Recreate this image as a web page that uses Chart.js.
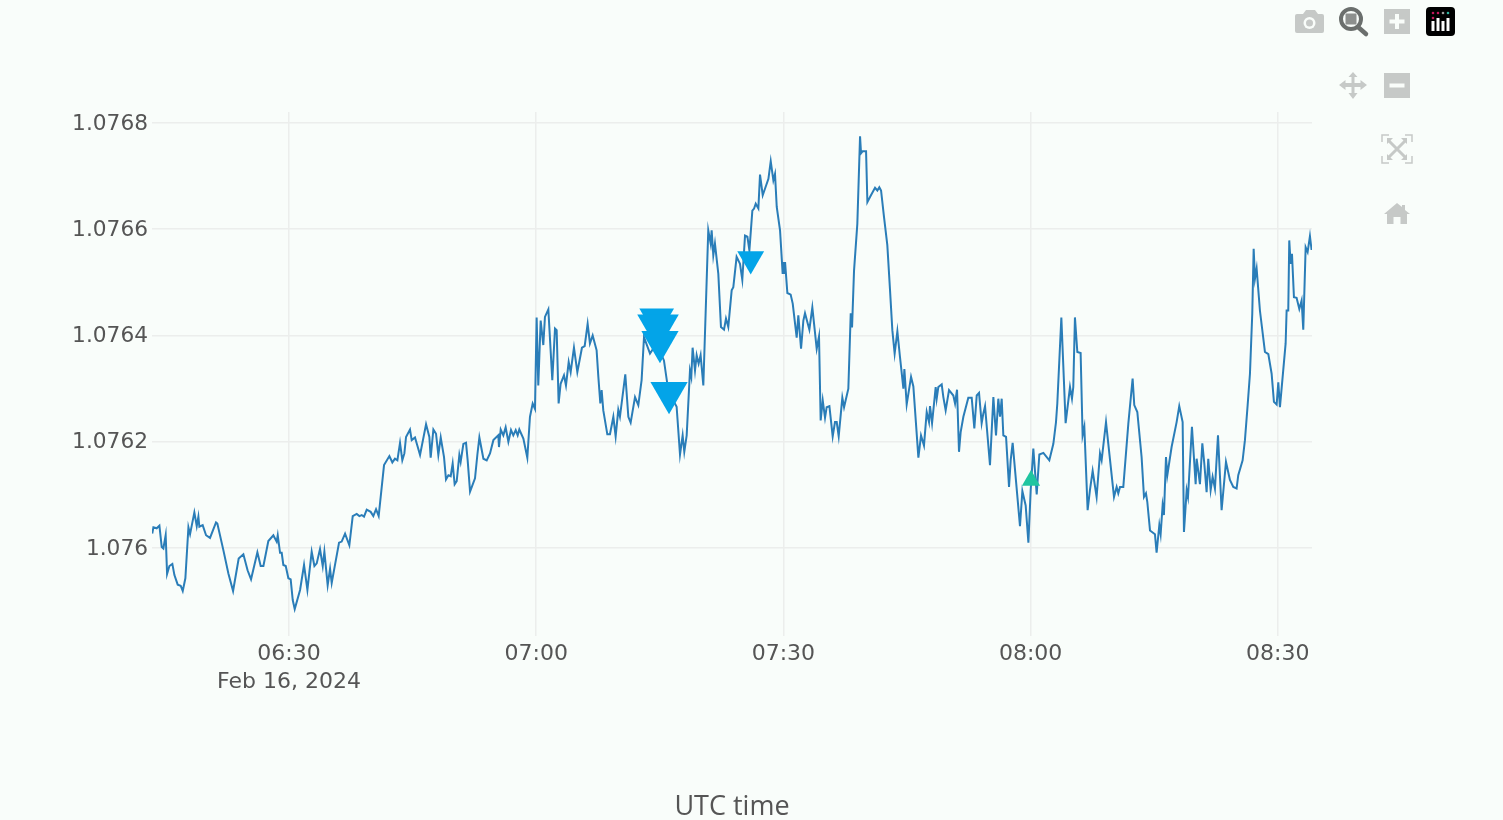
<!DOCTYPE html>
<html><head><meta charset="utf-8">
<script src="https://cdn.jsdelivr.net/npm/chart.js@4"></script>
<style>
html,body{margin:0;padding:0;background:#f9fdfa;width:1503px;height:820px;overflow:hidden}
#wrap{position:relative;width:1503px;height:820px}
canvas{position:absolute;left:0;top:0}
svg{position:absolute;left:0;top:0}
</style></head><body>
<div id="wrap"><canvas id="c" width="1503" height="820"></canvas>
<svg width="1503" height="820" viewBox="0 0 1503 820" aria-hidden="true">
 <g fill="#c6c9c7">
  <path d="M1297 14h6l3-4h9l3 4h4a2 2 0 0 1 2 2v15a2 2 0 0 1-2 2h-25a2 2 0 0 1-2-2v-15a2 2 0 0 1 2-2z"/>
  <path d="M1384 9h26v25h-26z"/><path d="M1384 73h26v25h-26z"/>
  <path d="M1353 72l4.500 5h-3v6h6v-3l6.500 5-6.500 5v-3h-6v6h3l-4.500 6-4.500-6h3v-6h-6v3l-6.500-5 6.500-5v3h6v-6h-3z"/>
  <path d="M1397 203l5 4v-2h3v5l5 4h-3v10h-6.500v-7h-7v7H1387v-10h-3z"/>
 </g>
 <circle cx="1309.500" cy="23" r="6" fill="#f9fdfa"/><circle cx="1309.500" cy="23" r="3.500" fill="#c6c9c7"/>
 <path d="M1397 14v15M1389.500 21.500h15M1389.500 85.500h15" stroke="#f9fdfa" stroke-width="4"/>
 <g stroke="#c6c9c7" stroke-width="1.500" fill="none">
  <path d="M1382 142v-7h7M1405 135h7v7M1412 156v7h-7M1389 163h-7v-7"/>
 </g>
 <path d="M1389 141l16 16M1405 141l-16 16" stroke="#c6c9c7" stroke-width="3"/>
 <path d="M1387 138h6l-6 6zM1407 138h-6l6 6zM1387 160h6l-6-6zM1407 160h-6l6-6z" fill="#c6c9c7"/>
 <circle cx="1351" cy="19" r="10" fill="#f9fdfa" stroke="#6b6f6d" stroke-width="4"/>
 <rect x="1345.500" y="13.500" width="11" height="11" fill="#8d908e"/>
 <path d="M1358 27l8 7" stroke="#6b6f6d" stroke-width="4.500" stroke-linecap="round"/>
 <rect x="1426" y="7" width="29" height="29" rx="4" fill="#000"/>
 <path d="M1431.500 21h3v10h-3zM1436.500 18h3v13h-3zM1441.500 21h3v10h-3zM1446.500 18h3v13h-3z" fill="#fff"/>
 <circle cx="1433" cy="13" r="1.300" fill="#c2185b"/><circle cx="1433" cy="18" r="1.300" fill="#c2185b"/>
 <circle cx="1438" cy="13" r="1.300" fill="#c2185b"/><circle cx="1443" cy="13" r="1.300" fill="#9e9e9e"/>
 <circle cx="1448" cy="13" r="1.300" fill="#2bb5a0"/>
</svg></div>
<script>
// Minutes after 06:00 UTC on Feb 16, 2024
const times = [
13.4,13.54,13.94,14.27,14.55,14.75,15.03,15.20,15.48,15.84,16.09,16.49,16.85,17.10,17.42,17.79,17.99,18.51,18.80,19.00,19.12,19.52,19.93,20.41,21.14,21.30,22.03,22.64,23.21,23.89,24.46,24.97,25.39,26.16,26.56,26.89,27.49,28.10,28.50,28.63,28.91,29.11,29.31,29.60,29.92,30.20,30.45,30.69,31.34,31.82,32.23,32.75,33.08,33.36,33.76,34.09,34.29,34.69,34.98,35.18,36.07,36.39,36.80,37.32,37.73,38.21,38.54,38.82,39.10,39.43,39.91,40.23,40.56,40.88,41.53,42.18,42.54,42.86,43.15,43.47,43.75,44.00,44.20,44.68,44.89,45.29,45.57,45.90,46.63,47.03,47.19,47.52,47.84,48.12,48.41,48.81,49.05,49.34,49.62,49.86,50.10,50.35,50.67,50.83,51.16,51.48,51.68,51.97,52.57,52.86,53.10,53.59,53.99,54.39,54.80,55.40,55.48,55.69,56.01,56.29,56.62,56.94,57.22,57.51,57.75,57.95,58.44,58.92,
59.24,59.57,59.85,60.05,60.25,60.54,60.86,61.06,61.47,61.95,62.28,62.48,62.72,62.96,63.37,63.61,63.94,64.18,64.58,64.99,65.55,65.88,66.24,66.52,66.85,67.33,67.54,67.78,67.94,68.14,68.63,68.95,69.36,69.64,69.96,70.16,70.81,71.18,71.46,71.99,72.39,72.79,73.08,73.81,74.61,75.50,75.91,76.43,77.04,77.45,77.77,77.97,78.26,78.66,78.82,78.98,79.27,79.47,79.71,79.95,80.28,80.88,81.17,81.29,81.49,81.69,82.10,82.42,82.79,83.03,83.31,83.72,83.92,84.32,84.73,85.01,
85.34,85.63,85.87,86.23,86.44,86.64,86.96,87.16,87.49,88.18,88.46,88.78,88.98,89.19,89.59,
89.91,89.99,90.12,90.20,90.48,90.88,91.13,91.61,91.81,92.14,92.42,92.62,93.15,93.51,94.04,94.32,94.52,94.77,95.05,95.25,95.58,95.98,96.26,96.47,96.71,97.15,97.36,97.88,98.17,98.33,98.57,98.97,99.30,99.42,99.62,100.03,100.19,100.59,101.12,101.40,101.64,101.85,102.21,102.61,102.94,103.22,103.50,103.83,104.15,104.56,104.68,104.96,105.49,105.77,106.38,106.70,107.06,107.39,107.67,107.79,108.04,108.48,108.60,108.80,109.21,109.41,109.69,110.10,110.62,110.83,111.07,111.31,111.51,111.84,112.44,112.85,113.17,113.46,113.74,114.06,114.26,114.47,115.07,115.48,115.80,116.08,116.29,116.49,116.69,117.02,117.38,117.58,117.82,118.71,119.00,119.40,119.73,120.01,120.33,120.74,121.06,121.55,122.27,
122.76,123.08,123.24,123.73,124.25,124.78,125.02,125.18,125.38,125.67,126.07,126.31,126.52,126.92,127.20,127.53,128.01,128.42,128.62,129.15,129.43,130.12,130.44,130.64,130.85,131.25,131.86,132.38,132.58,132.95,133.47,133.76,134.00,134.16,134.49,135.09,135.29,135.62,135.78,136.02,136.18,136.43,136.59,137.11,137.72,138.04,138.45,138.61,138.94,139.10,139.58,140.03,140.15,140.55,140.84,141.08,141.36,141.56,141.85,142.09,142.37,142.74,143.18,143.71,144.19,144.60,145.00,145.20,145.73,146.01,146.34,146.62,146.90,147.07,147.23,147.43,147.83,148.44,148.85,149.25,149.53,149.86,150.06,150.26,150.95,151.07,151.27,151.39,151.56,151.72,151.96,152.28,152.61,152.89,153.09,153.38,153.62,153.90,154.1];
const prices = [
1.076027,1.076039,1.076037,1.076042,1.076002,1.075999,1.076024,1.075951,1.075966,1.075970,1.075949,1.075931,1.075929,1.075919,1.075943,1.076039,1.076026,1.076067,1.076041,1.076059,1.076040,1.076043,1.076024,1.076019,1.076048,1.076046,1.075996,1.075952,1.075919,1.075980,1.075988,1.075958,1.075941,1.075992,1.075966,1.075966,1.076013,1.076024,1.076012,1.076024,1.075991,1.075991,1.075968,1.075966,1.075943,1.075941,1.075902,1.075885,1.075921,1.075968,1.075921,1.075993,1.075966,1.075971,1.075998,1.075966,1.075993,1.075930,1.075961,1.075934,1.076010,1.076012,1.076027,1.076005,1.076060,1.076064,1.076060,1.076062,1.076059,1.076072,1.076068,1.076060,1.076073,1.076060,1.076156,1.076173,1.076161,1.076168,1.076165,1.076198,1.076165,1.076178,1.076209,1.076223,1.076203,1.076208,1.076193,1.076175,1.076233,1.076209,1.076170,1.076223,1.076215,1.076175,1.076208,1.076171,1.076129,1.076137,1.076135,1.076159,1.076120,1.076126,1.076175,1.076162,1.076196,1.076198,1.076165,1.076106,1.076131,1.076176,1.076208,1.076168,1.076165,1.076178,1.076203,1.076212,1.076190,1.076223,1.076212,1.076227,1.076200,1.076222,1.076212,1.076222,1.076212,1.076223,1.076206,1.076170,
1.076247,1.076272,1.076262,1.076434,1.076306,1.076428,1.076382,1.076435,1.076449,1.076316,1.076413,1.076410,1.076272,1.076309,1.076325,1.076306,1.076350,1.076331,1.076377,1.076331,1.076377,1.076380,1.076422,1.076385,1.076400,1.076372,1.076322,1.076272,1.076297,1.076259,1.076214,1.076214,1.076247,1.076210,1.076260,1.076247,1.076327,1.076247,1.076236,1.076284,1.076269,1.076316,1.076397,1.076366,1.076385,1.076353,1.076309,1.076284,1.076266,1.076176,1.076212,1.076181,1.076212,1.076334,1.076322,1.076377,1.076334,1.076363,1.076347,1.076363,1.076306,1.076598,1.076573,1.076598,1.076551,1.076573,1.076516,1.076416,1.076411,1.076432,1.076416,1.076485,1.076491,1.076548,1.076535,1.076505,
1.076588,1.076586,1.076560,1.076635,1.076639,1.076648,1.076639,1.076703,1.076664,1.076695,1.076728,1.076692,1.076704,1.076642,1.076598,
1.076516,1.076538,1.076516,1.076538,1.076480,1.076477,1.076460,1.076396,1.076438,1.076375,1.076428,1.076442,1.076411,1.076453,1.076375,1.076398,1.076240,1.076278,1.076245,1.076265,1.076267,1.076210,1.076237,1.076237,1.076210,1.076283,1.076265,1.076300,1.076442,1.076415,1.076522,1.076610,1.076775,1.076743,1.076747,1.076747,1.076651,1.076663,1.076678,1.076673,1.076679,1.076673,1.076623,1.076570,1.076485,1.076410,1.076366,1.076408,1.076359,1.076300,1.076337,1.076270,1.076322,1.076304,1.076170,1.076212,1.076193,1.076256,1.076237,1.076267,1.076235,1.076303,1.076281,1.076303,1.076308,1.076284,1.076259,1.076297,1.076287,1.076272,1.076298,1.076181,1.076218,1.076247,1.076283,1.076283,1.076225,1.076287,1.076292,1.076235,1.076253,1.076267,1.076156,1.076284,1.076212,1.076281,1.076247,1.076281,1.076212,1.076209,1.076115,1.076165,1.076198,1.076041,1.076107,1.076080,1.076010,1.076109,1.076187,1.076101,1.076176,1.076179,1.076165,
1.076196,1.076237,1.076272,1.076434,1.076235,1.076303,1.076281,1.076303,1.076434,1.076369,1.076367,1.076212,1.076228,1.076071,1.076109,1.076145,1.076096,1.076178,1.076165,1.076237,1.076196,1.076096,1.076115,1.076103,1.076115,1.076115,1.076234,1.076319,1.076269,1.076256,1.076171,1.076096,1.076103,1.076087,1.076033,1.076026,1.075991,1.076043,1.076026,1.076080,1.076062,1.076171,1.076137,1.076190,1.076237,1.076267,1.076237,1.076030,1.076109,1.076096,1.076228,1.076120,1.076168,1.076120,1.076197,1.076159,1.076105,1.076168,1.076109,1.076134,1.076112,1.076212,1.076071,1.076162,1.076128,1.076115,1.076112,1.076137,1.076165,1.076203,1.076269,1.076328,1.076441,1.076563,1.076507,1.076526,1.076447,1.076369,1.076365,1.076328,1.076275,1.076270,1.076312,1.076265,1.076385,1.076447,1.076447,1.076579,1.076535,1.076554,1.076472,1.076471,1.076450,1.076466,1.076411,1.076566,1.076557,1.076587,1.076561];
const sellTimes = [74.62,74.78,75.02,76.12,86.03];
const sellPrices = [1.076432,1.076417,1.076388,1.076292,1.076544];
const buyTimes = [120.05];
const buyPrices = [1.076127];
const xTicks = [30,60,90,120,150];
const xTickLabels = [["06:30","Feb 16, 2024"],"07:00","07:30","08:00","08:30"];
const yTicks = [1.076,1.0762,1.0764,1.0766,1.0768];
const yTickLabels = ["1.076","1.0762","1.0764","1.0766","1.0768"];
const xTitle = "UTC time";
const sellRadii = [20,24,21.5,21.5,15.5];
const buyRadii = [10.5];

const pair = (xs,ys)=>xs.map((x,i)=>({x,y:ys[i]}));
new Chart(document.getElementById('c'),{
  type:'scatter',
  data:{datasets:[
    {label:'Sell',data:pair(sellTimes,sellPrices),order:1,showLine:false,pointStyle:'triangle',rotation:180,
     pointRadius:sellRadii,backgroundColor:'#03a4e8',borderWidth:0,pointBorderWidth:0},
    {label:'Buy',data:pair(buyTimes,buyPrices),order:1,showLine:false,pointStyle:'triangle',
     pointRadius:buyRadii,backgroundColor:'#20c5a0',borderWidth:0,pointBorderWidth:0},
    {label:'Price',data:pair(times,prices),order:2,showLine:true,pointRadius:0,borderColor:'#2a7db8',borderWidth:2,tension:0,fill:false}
  ]},
  options:{
    responsive:false,animation:false,
    layout:{padding:{top:112,right:191,left:0,bottom:0}},
    plugins:{legend:{display:false},tooltip:{enabled:false},title:{display:false}},
    scales:{
      x:{type:'linear',min:13.37,max:154.15,
        afterBuildTicks:s=>{s.ticks=xTicks.map(v=>({value:v}));},
        afterFit:s=>{s.height=184;},
        border:{display:false},
        grid:{color:'#eceeec',lineWidth:1.5,drawTicks:false},
        ticks:{autoSkip:false,maxRotation:0,padding:4,color:'#555',font:{family:"'DejaVu Sans'",size:22,lineHeight:1.27},callback:(v,i)=>xTickLabels[i]},
        title:{display:true,text:xTitle,color:'#555',font:{family:"'Open Sans'",size:27},padding:{top:0,bottom:-4}}
      },
      y:{type:'linear',min:1.0758343,max:1.0768207,
        afterBuildTicks:s=>{s.ticks=yTicks.map(v=>({value:v}));},
        afterFit:s=>{s.width=152;},
        border:{display:false},
        grid:{color:'#eceeec',lineWidth:1.5,drawTicks:false},
        ticks:{autoSkip:false,padding:4,labelOffset:1,color:'#555',font:{family:"'DejaVu Sans'",size:21.7},callback:(v,i)=>yTickLabels[i]}
      }
    }
  }
});
</script></body></html>
